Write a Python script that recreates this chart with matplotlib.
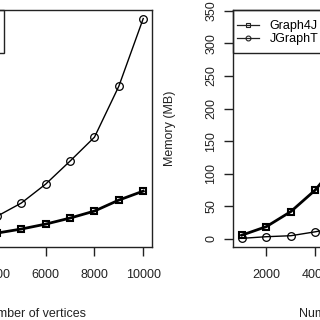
import numpy as np
import matplotlib
matplotlib.use("Agg")
import matplotlib.pyplot as plt
from matplotlib.lines import Line2D
from matplotlib.patches import Rectangle

plt.rcParams['font.family'] = ['Liberation Sans', 'DejaVu Sans']

vertices = [1000, 2000, 3000, 4000, 5000, 6000, 7000, 8000, 9000, 10000]

# left panel (time), only the right part is visible
time_graph4j = [0, 10, 25, 47, 84, 129, 184, 248, 348, 430]
time_jgrapht = [10, 50, 110, 200, 321, 494, 704, 922, 1387, 2004]

# right panel: memory (MB)
mem_graph4j = [6, 19, 42, 75, 120, 170, 225, 270, 300, 338]
mem_jgrapht = [1, 3.5, 5, 11, 18, 26, 34, 42, 50, 58]

labels = ["Graph4J", "JGraphT"]
xticks = [2000, 4000, 6000, 8000, 10000]
mem_ticks = [0, 50, 100, 150, 200, 250, 300, 350]
time_ticks = [0, 500, 1000, 1500, 2000]

fig = plt.figure(figsize=(3.2, 3.2), dpi=100)
ax1 = fig.add_axes([-0.2656, 0.2281, 0.7406, 0.7406])
ax2 = fig.add_axes([0.729, 0.2281, 0.7406, 0.7406])


def style(ax):
    for s in ax.spines.values():
        s.set_linewidth(1.0)
        s.set_color("#222222")
    ax.tick_params(length=6.5, width=1.0, color="#222222", labelsize=9,
                   labelcolor="#222222")
    ax.tick_params(axis="x", pad=9)
    ax.tick_params(axis="y", pad=5)
    ax.set_xlim(640, 10360)
    ax.set_xticks(xticks)
    for t in ax.get_yticklabels():
        t.set_rotation(90)
        t.set_va("center")
    ax.set_xlabel("Number of vertices", fontsize=9, color="#222222", labelpad=20)
    # legend box like R's legend("topleft")
    ax.add_patch(Rectangle((0, 0.8186), 0.3755, 0.1814, transform=ax.transAxes,
                           fill=False, lw=1.0, ec="#222222", zorder=5, clip_on=False))
    h = [Line2D([], [], color="#222222", lw=0.9, marker="s", ms=3.5, mfc="none", mew=0.8),
         Line2D([], [], color="#222222", lw=0.9, marker="o", ms=3.5, mfc="none", mew=0.8)]
    ax.legend(h, labels, loc="upper left", bbox_to_anchor=(4 / 237, 1 - 10 / 237),
              borderaxespad=0, borderpad=0, frameon=False, fontsize=9,
              handlelength=1.75, handletextpad=0.85, labelspacing=0.1)


ax1.plot(vertices, time_graph4j, color="black", lw=2, marker="s", ms=5,
         mfc="none", mew=1.5)
ax1.plot(vertices, time_jgrapht, color="black", lw=1, marker="o", ms=5.5,
         mfc="none", mew=0.9)
ax1.set_ylim(-80, 2082)
ax1.set_yticks(time_ticks)
ax1.set_ylabel("Time (ms)", fontsize=9)
style(ax1)

ax2.plot(vertices, mem_graph4j, color="black", lw=2, marker="s", ms=5,
         mfc="none", mew=1.5)
ax2.plot(vertices, mem_jgrapht, color="black", lw=1, marker="o", ms=5.5,
         mfc="none", mew=0.9)
ax2.set_ylim(-12.3, 351)
ax2.set_yticks(mem_ticks)
ax2.set_ylabel("Memory (MB)", fontsize=9, color="#222222", labelpad=21)
style(ax2)

fig.savefig("out.png", dpi=100)
